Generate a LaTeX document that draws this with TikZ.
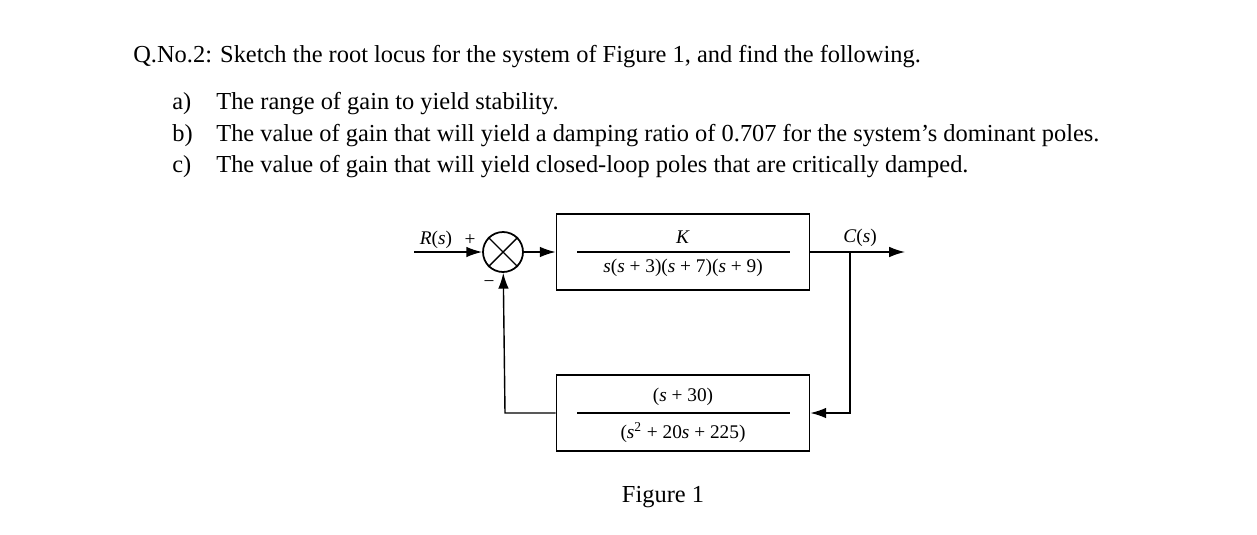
\documentclass[tikz,border=0pt]{standalone}
\usepackage{fontspec}
\setmainfont{Liberation Serif}
\usetikzlibrary{arrows.meta}
\begin{document}
\begin{tikzpicture}[x=0.02cm,y=-0.02cm,
  blk/.style={draw,line width=1pt,minimum width=5.06cm,minimum height=1.52cm},
  sig/.style={line width=0.8pt,-{Latex[length=9pt,width=6pt]}},
  ln/.style={line width=0.8pt},
  txt/.style={font=\fontsize{13.9}{16}\selectfont,anchor=west,inner sep=0},
  lab/.style={font=\fontsize{11}{13}\selectfont,inner sep=0}]
\useasboundingbox (0,0) rectangle (1257,534);
\node[txt] (q) at (133,57) {Q.No.2: Sketch the root locus for the system of Figure 1, and find the following.};
\node[txt] (la) at (172,104) {a)};
\node[txt] (ta) at (216,104) {The range of gain to yield stability.};
\node[txt] (lb) at (172,136) {b)};
\node[txt] (tb) at (216,136) {The value of gain that will yield a damping ratio of 0.707 for the system{\char"0027}s dominant poles.};
\node[txt] (lc) at (172,167) {c)};
\node[txt] (tc) at (216,167) {The value of gain that will yield closed-loop poles that are critically damped.};
\node[draw,line width=1pt,circle,minimum size=0.8cm,inner sep=0] (sum) at (503,252) {};
\draw[ln] (sum.45) -- (sum.225) (sum.135) -- (sum.315);
\node[blk] (G) at (683,252) {};
\node[blk] (H) at (683,413) {};
\draw[line width=0.8pt] (577,252) -- (790,252);
\draw[line width=0.8pt] (577,413) -- (790,413);
\node[lab] (gn) at (683,237) {\textit{K}};
\node[lab] (gd) at (683,268) {\textit{s}(\textit{s} + 3)(\textit{s} + 7)(\textit{s} + 9)};
\node[lab] (hn) at (683,397) {(\textit{s} + 30)};
\node[lab] (hd) at (683,433) {(\textit{s}\textsuperscript{2} + 20\textit{s} + 225)};
\coordinate (in) at (414,252);
\coordinate (out) at (905,252);
\coordinate (br) at (850,252);
\coordinate (bd) at (850,413);
\coordinate (fl) at (505,413);
\draw[sig] (in) -- (sum);
\draw[sig] (sum) -- (G);
\draw[sig] (G) -- (out);
\draw[sig] (br) -- (bd) -- (H);
\draw[sig] (H) -- (fl) -- (sum);
\node[lab] (R) at (436,240) {\textit{R}(\textit{s})};
\node[lab] (p) at (470,240) {+};
\node[lab] (m) at (489,284) {\textminus};
\node[lab] (C) at (860,238) {\textit{C}(\textit{s})};
\node[font=\fontsize{13.9}{16}\selectfont,inner sep=0] (f) at (663,497) {Figure 1};
\end{tikzpicture}
\end{document}
